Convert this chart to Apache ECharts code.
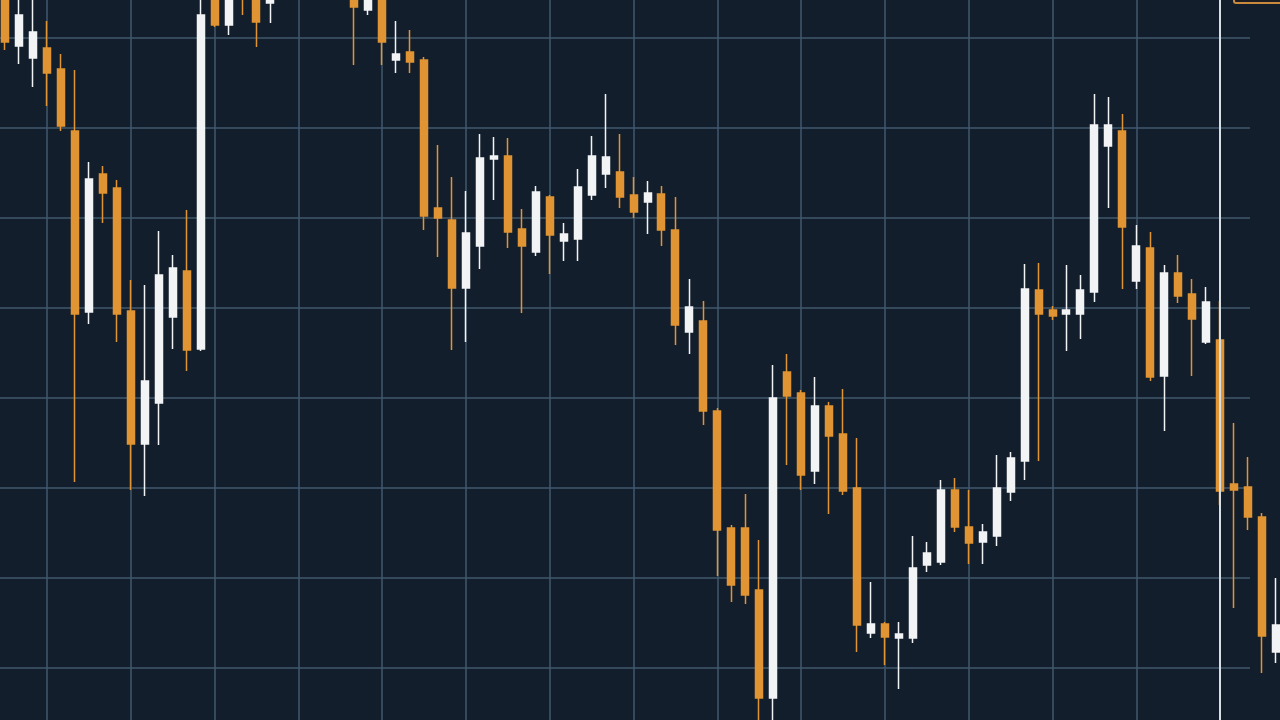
<!DOCTYPE html>
<html>
<head>
<meta charset="utf-8">
<script src="https://cdn.jsdelivr.net/npm/echarts@6/dist/echarts.min.js"></script>
<style>
html,body{margin:0;padding:0;background:#131e2c;}
#chart{width:1280px;height:720px;}
</style>
</head>
<body>
<div id="chart"></div>
<script>
// Session numbers (x positions); every 6th session carries a vertical grid line
const sessionIndex = [3,4,5,6,7,8,9,10,11,12,13,14,15,16,17,18,19,20,21,22,23,24,25,26,27,28,29,30,31,32,
33,34,35,36,37,38,39,40,41,42,43,44,45,46,47,48,49,50,51,52,53,54,55,56,57,58,59,60,61,62,
63,64,65,66,67,68,69,70,71,72,73,74,75,76,77,78,79,80,81,82,83,84,85,86,87,88,89,90,91,92,93,94];

const openPrices = [76.3,71.2,70.0,71.0,68.9,62.7,44.6,58.4,57.0,44.7,
31.4,35.5,44.1,48.7,40.9,76.3,73.3,78.3,76.8,75.5,
77.3,80.3,83.8,81.8,78.8,78.8,74.8,76.8,69.8,70.6,
69.8,55.0,53.8,47.0,51.2,59.9,60.2,52.9,50.6,56.1,
51.7,51.9,56.3,58.4,58.6,56.3,55.6,56.4,52.8,42.6,
43.7,34.7,23.0,23.0,16.8,6.0,38.6,36.5,28.7,35.2,
32.4,27.0,12.5,13.4,12.0,12.0,19.3,19.6,26.8,23.1,
21.6,22.2,26.6,29.7,46.8,44.8,44.4,44.4,46.6,61.2,
62.7,47.7,51.0,38.2,48.5,46.4,41.6,41.8,27.4,27.1,
24.1,10.6];

const closePrices = [71.6,74.3,72.6,68.5,63.2,44.4,57.9,56.5,44.4,31.4,
37.7,48.3,49.0,40.8,74.3,73.3,76.1,77.0,73.6,77.3,
80.3,83.8,81.8,79.3,81.3,75.1,76.8,71.6,70.4,69.6,
54.2,54.0,47.0,52.5,60.0,60.2,52.6,51.2,56.6,52.3,
52.4,57.1,60.2,60.1,56.1,54.6,56.5,52.8,43.3,45.1,
34.7,22.8,17.3,16.3,6.0,36.0,36.2,28.3,35.2,32.2,
26.7,13.3,13.4,12.1,12.4,19.0,20.5,26.8,23.1,21.5,
22.6,27.0,30.0,46.9,44.4,44.2,44.8,46.8,63.3,63.3,
53.1,51.2,38.1,48.5,46.2,43.9,45.6,26.7,26.8,24.1,
12.2,13.3];

const lowPrices = [70.8,69.4,67.1,65.2,62.7,27.6,43.4,53.5,41.6,26.8,
26.2,31.3,40.9,38.7,40.7,73.1,72.3,74.3,71.1,73.5,
76.6,79.8,80.8,78.3,77.8,69.3,74.3,69.3,68.5,68.5,
52.8,50.1,40.8,41.6,48.9,55.8,51.0,44.5,50.2,48.4,
49.7,49.7,55.8,57.0,55.0,54.0,52.4,51.2,41.3,40.4,
33.3,18.2,15.6,15.4,1.8,1.8,29.3,26.8,27.4,24.4,
26.3,10.6,12.0,9.3,6.9,11.5,18.6,19.3,22.6,19.4,
19.4,21.2,25.7,27.8,29.7,43.8,40.7,41.9,45.6,55.0,
46.9,46.9,37.7,32.7,45.5,38.2,41.4,25.3,15.0,22.8,
8.5,9.5];

const highPrices = [77.3,76.1,75.8,73.7,70.4,68.8,59.6,59.2,57.8,47.8,
47.3,52.7,50.3,54.8,76.3,77.3,76.8,79.3,77.8,78.3,
81.3,84.8,85.3,82.8,82.3,79.8,77.8,77.8,73.7,72.8,
70.1,61.3,58.1,56.7,62.4,62.1,62.0,54.9,57.2,56.3,
53.5,58.9,62.2,66.4,62.4,58.1,57.7,57.2,56.1,47.9,
45.7,35.0,23.3,26.4,21.8,39.3,40.4,36.8,38.1,35.6,
36.9,32.0,17.6,13.6,13.6,22.2,21.6,27.8,28.0,26.8,
23.4,30.3,30.6,49.4,49.5,45.2,49.3,48.3,66.4,66.1,
64.4,53.3,52.6,49.3,50.3,47.9,47.1,45.7,33.5,30.1,
24.5,18.0];

const highlightedSession = 90;

const candles = sessionIndex.map((x, k) => [x, openPrices[k], closePrices[k], lowPrices[k], highPrices[k]]);

const chart = echarts.init(document.getElementById('chart'), null, {renderer: 'canvas'});
chart.setOption({
  backgroundColor: '#131e2c',
  animation: false,
  grid: {left: -36.8, right: 30, top: -52, bottom: -38, containLabel: false, outerBoundsMode: 'none'},
  xAxis: {
    type: 'value', min: 0, max: 92.14, interval: 6,
    axisLine: {show: false}, axisTick: {show: false}, axisLabel: {show: false},
    splitLine: {show: true, showMinLine: false, showMaxLine: false, lineStyle: {color: '#40596b', width: 1.5}}
  },
  yAxis: {
    type: 'value', min: 0, max: 81, interval: 9,
    axisLine: {show: false}, axisTick: {show: false}, axisLabel: {show: false},
    splitLine: {show: true, showMinLine: false, showMaxLine: false, lineStyle: {color: '#40596b', width: 1.5}}
  },
  series: [{
    type: 'candlestick',
    clip: false,
    barWidth: 7.5,
    data: candles,
    itemStyle: {
      color: '#f1f3f5', color0: '#e09433',
      borderColor: '#f1f3f5', borderColor0: '#e09433',
      borderWidth: 1.5
    },
    markLine: {
      silent: true,
      symbol: ['none', 'none'],
      label: {show: false},
      lineStyle: {color: '#d6dee6', width: 2, type: 'solid'},
      data: [{xAxis: highlightedSession}]
    }
  }],
  graphic: [{
    type: 'rect', silent: true,
    shape: {x: 1234, y: -22, width: 60, height: 25, r: 2},
    style: {fill: '#1b1d22', stroke: '#c98a3c', lineWidth: 2}
  }]
});
</script>
</body>
</html>
